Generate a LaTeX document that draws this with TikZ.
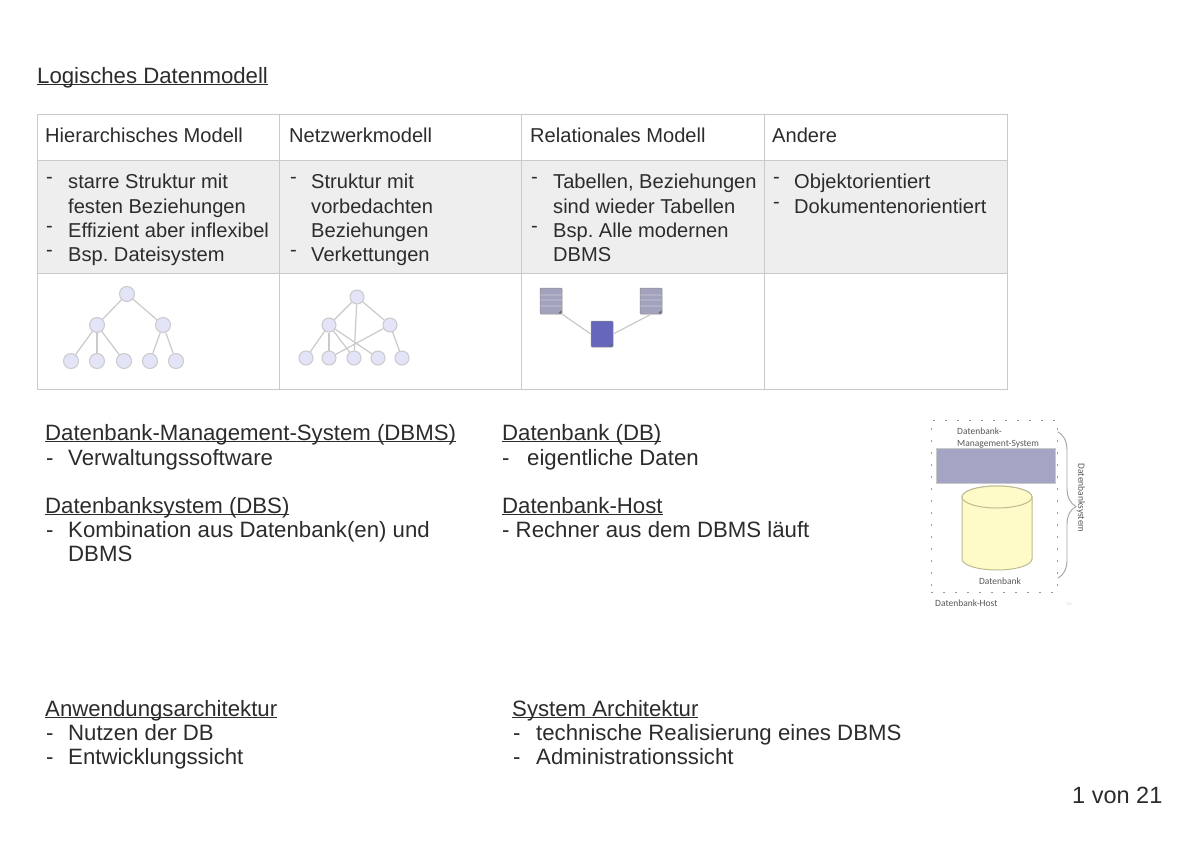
\documentclass[tikz,border=0pt]{standalone}
\usepackage{fontspec}
\setmainfont{Liberation Sans}
\newfontfamily\smallfont{Carlito}
\usetikzlibrary{decorations.pathreplacing}
\definecolor{txtcol}{HTML}{2C2C2C}
\definecolor{gridcol}{HTML}{CACACA}
\definecolor{rowcol}{HTML}{EEEEEE}
\definecolor{ballcol}{HTML}{E4E4F8}
\definecolor{sheetcol}{HTML}{A2A2BC}
\definecolor{bluecol}{HTML}{6666BB}
\definecolor{barcol}{HTML}{A4A4C4}
\definecolor{cylcol}{HTML}{FFFBC8}
\definecolor{cylline}{HTML}{BDBB90}
\newcommand{\ulin}[1]{\underline{\smash{#1}}}
\frenchspacing
\tikzset{
  txt/.style={anchor=base west,inner sep=0pt,text=txtcol,font=\fontsize{22.2}{26}\selectfont},
  celltxt/.style={txt,font=\fontsize{20.1}{24}\selectfont},
  raised/.style={celltxt,yshift=5pt},
  cell/.style={draw=gridcol,line width=1pt},
  ball/.style={circle,draw=gridcol,fill=ballcol,line width=1pt,inner sep=0pt,minimum size=15pt},
  sball/.style={ball,minimum size=14pt},
  edge/.style={draw=gridcol,line width=1.2pt},
  sheet/.style={draw=gridcol!70!black,fill=sheetcol,line width=.5pt,rounded corners=1pt,minimum width=22pt,minimum height=26pt,inner sep=0pt},
  tiny/.style={inner sep=0pt,text=black!65,font=\smallfont\fontsize{9.5}{11}\selectfont},
  cyl/.style={draw=cylline,fill=cylcol,line width=1pt},
}
\begin{document}
\begin{tikzpicture}[x=1pt,y=-1pt]
\path[use as bounding box,fill=white] (0,0) rectangle (1200,846);

% Title
\node[txt] (title) at (37,83) {\ulin{Logisches Datenmodell}};

% Table cells
\foreach \name/\xa/\xb in {a/37/279,b/279/521,c/521/764,d/764/1007}{
  \draw[cell] (\xa,114) rectangle (\xb,160);
  \draw[cell,fill=rowcol] (\xa,160) rectangle (\xb,273);
  \draw[cell] (\xa,273) rectangle (\xb,389);
}

% Table head
\node[celltxt] (headA) at (45,142) {Hierarchisches Modell};
\node[celltxt] (headB) at (289,142) {Netzwerkmodell};
\node[celltxt] (headC) at (530,142) {Relationales Modell};
\node[celltxt] (headD) at (772,142) {Andere};

% Column one
\node[raised] (dashA1) at (46,188) {-};
\node[celltxt] (textA1) at (68,188) {starre Struktur mit};
\node[celltxt] (textA2) at (68,213) {festen Beziehungen};
\node[raised] (dashA2) at (46,237) {-};
\node[celltxt] (textA3) at (68,237) {Effizient aber inflexibel};
\node[raised] (dashA3) at (46,261) {-};
\node[celltxt] (textA4) at (68,261) {Bsp. Dateisystem};

% Column two
\node[raised] (dashB1) at (290,188) {-};
\node[celltxt] (textB1) at (311,188) {Struktur mit};
\node[celltxt] (textB2) at (311,213) {vorbedachten};
\node[celltxt] (textB3) at (311,237) {Beziehungen};
\node[raised] (dashB2) at (290,261) {-};
\node[celltxt] (textB4) at (311,261) {Verkettungen};

% Column three
\node[raised] (dashC1) at (531,188) {-};
\node[celltxt] (textC1) at (553,188) {Tabellen, Beziehungen};
\node[celltxt] (textC2) at (553,213) {sind wieder Tabellen};
\node[raised] (dashC2) at (531,237) {-};
\node[celltxt] (textC3) at (553,237) {Bsp. Alle modernen};
\node[celltxt] (textC4) at (553,261) {DBMS};

% Column four
\node[raised] (dashD1) at (773,188) {-};
\node[celltxt] (textD1) at (794,188) {Objektorientiert};
\node[raised] (dashD2) at (773,213) {-};
\node[celltxt] (textD2) at (794,213) {Dokumentenorientiert};

% Tree
\node[ball] (root) at (127,294) {};
\node[ball] (midL) at (97,325) {};
\node[ball] (midR) at (163,325) {};
\foreach \n/\x in {1/71,2/97,3/124,4/150,5/176}
  \node[ball] (leaf\n) at (\x,361) {};
\draw[edge] (root) -- (midL);
\draw[edge] (root) -- (midR);
\foreach \n in {1,2,3} \draw[edge] (midL) -- (leaf\n);
\foreach \n in {4,5} \draw[edge] (midR) -- (leaf\n);

% Network
\node[sball] (top) at (357,297) {};
\node[sball] (netL) at (329,325) {};
\node[sball] (netR) at (390,325) {};
\foreach \n/\x in {1/306,2/329,3/354,4/378,5/402}
  \node[sball] (low\n) at (\x,358) {};
\draw[edge] (top) -- (netL);
\draw[edge] (top) -- (netR);
\draw[edge] (top) -- (low3);
\foreach \n in {1,2,3,4} \draw[edge] (netL) -- (low\n);
\draw[edge] (netR) -- (low2);
\draw[edge] (netR) -- (low5);

% Relational
\node[sheet] (sheetL) at (551,301) {};
\node[sheet] (sheetR) at (651,301) {};
\node[sheet,fill=bluecol] (sheetM) at (602,334) {};
\foreach \s in {sheetL,sheetR}
  \foreach \d in {7,12,18}
    \draw[white,opacity=.15,line width=2pt] ([yshift=-\d pt]\s.north west) -- ([yshift=-\d pt]\s.north east);
\foreach \s in {sheetL,sheetR,sheetM}
  \fill[black!60] ([shift={(-1pt,1pt)}]\s.south east) -- ++(-3,0) -- ++(3,-3) -- cycle;
\draw[edge] (sheetL.south east) -- (sheetM.west);
\draw[edge] (sheetR.south) -- (sheetM.east);

% Terms
\node[txt] (dbmsHead) at (45,440) {\ulin{Datenbank-Management-System (DBMS)}};
\node[txt] (dbmsDash) at (46,465) {-};
\node[txt] (dbmsText) at (68,465) {Verwaltungssoftware};
\node[txt] (dbsHead) at (45,513) {\ulin{Datenbanksystem (DBS)}};
\node[txt] (dbsDash) at (46,537) {-};
\node[txt] (dbsText1) at (68,537) {Kombination aus Datenbank(en) und};
\node[txt] (dbsText2) at (68,561) {DBMS};
\node[txt] (dbHead) at (502,440) {\ulin{Datenbank (DB)}};
\node[txt] (dbDash) at (502,465) {-};
\node[txt] (dbText) at (527,465) {eigentliche Daten};
\node[txt] (hostHead) at (502,513) {\ulin{Datenbank-Host}};
\node[txt] (hostText) at (502,537) {- Rechner aus dem DBMS läuft};

% Small figure
\node[draw=black!40,dash pattern=on 2pt off 10pt,line width=1pt,minimum width=126pt,minimum height=172pt,inner sep=0pt] (hostBox) at (994,506) {};
\node[fill=barcol,draw=gridcol,line width=.5pt,minimum width=119pt,minimum height=35pt,inner sep=0pt] (dbmsBar) at (995.5,465.5) {};
\draw[cyl] (962,497) -- (962,559) arc[start angle=180,end angle=360,x radius=35pt,y radius=11pt] -- (1032,497) arc[start angle=0,end angle=180,x radius=35pt,y radius=11pt] -- cycle;
\draw[cyl] (997,497) ellipse [x radius=35pt,y radius=11pt];
\node[tiny,anchor=base west] (figA) at (957,434) {Datenbank-};
\node[tiny,anchor=base west] (figB) at (957,446) {Management-System};
\node[tiny] (figC) at (1000,581) {Datenbank};
\node[tiny,anchor=base west] (figD) at (935,606) {Datenbank-Host};
\node[tiny,rotate=-90] (figE) at (1081,498) {Datenbanksystem};
\node[tiny,text=black!15,font=\smallfont\fontsize{5}{6}\selectfont] (figF) at (1069,604) {26};
\coordinate (braceTop) at (1058,432);
\coordinate (braceEnd) at (1058,578);
\draw[gridcol!80!black,line width=.9pt,decorate,decoration={brace,amplitude=18pt,aspect=.51}] (braceTop) -- (braceEnd);

% Architecture
\node[txt] (archHead) at (45,716) {\ulin{Anwendungsarchitektur}};
\node[txt] (archDash1) at (46,740) {-};
\node[txt] (archText1) at (68,740) {Nutzen der DB};
\node[txt] (archDash2) at (46,764) {-};
\node[txt] (archText2) at (68,764) {Entwicklungssicht};
\node[txt] (sysHead) at (512,716) {\ulin{System Architektur}};
\node[txt] (sysDash1) at (513,740) {-};
\node[txt] (sysText1) at (536,740) {technische Realisierung eines DBMS};
\node[txt] (sysDash2) at (513,764) {-};
\node[txt] (sysText2) at (536,764) {Administrationssicht};

% Page number
\node[txt,font=\fontsize{23.5}{28}\selectfont] (pageNo) at (1072,803) {1 von 21};
\end{tikzpicture}
\end{document}
